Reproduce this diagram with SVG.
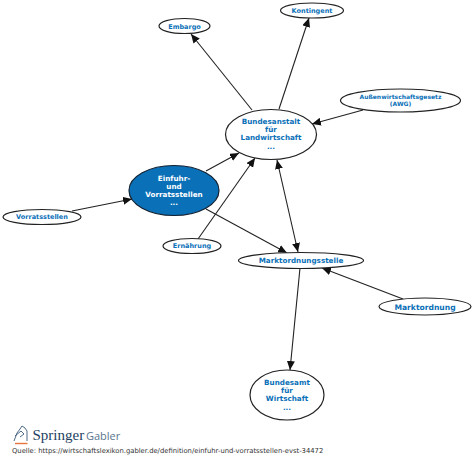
<svg xmlns="http://www.w3.org/2000/svg" width="474" height="463" viewBox="0 0 474 463">
<style>
.n{fill:#fff;stroke:#222;stroke-width:1.2}
.t{font-family:"DejaVu Sans",sans-serif;font-weight:bold;fill:#0a70b8;text-anchor:middle}
.x{font-size:6px}.s{font-size:6.5px}.m{font-size:7.2px}
.e{fill:none;stroke:#222;stroke-width:1.1;marker-end:url(#a)}
</style>
<defs><marker id="a" markerUnits="userSpaceOnUse" markerWidth="10" markerHeight="8" refX="9" refY="4" orient="auto-start-reverse"><path d="M0 0L9 4L0 8z" fill="#111"/></marker></defs>
<rect width="474" height="463" fill="#fff"/>
<g id="connectors">
<path class="e" d="M252 110L191 34"/>
<path class="e" d="M279 109L309 18"/>
<path class="e" d="M363 110L312 124"/>
<path class="e" d="M206 171L239 153"/>
<path class="e" d="M198 239L255 158"/>
<path class="e" d="M298 252L277 160" marker-start="url(#a)"/>
<path class="e" d="M206 209L287 253"/>
<path class="e" d="M72 211L132 199"/>
<path class="e" d="M403 299L322 268"/>
<path class="e" d="M300 268L290 370"/>
</g>
<g id="embargo"><ellipse class="n" cx="184.500" cy="26" rx="25.500" ry="7.500"/><text class="t s" x="184.500" y="28.500">Embargo</text></g>
<g id="kontingent"><ellipse class="n" cx="312" cy="10.500" rx="31.500" ry="7.500"/><text class="t s" x="312" y="12.500">Kontingent</text></g>
<g id="awg"><ellipse class="n" cx="400.500" cy="100.500" rx="60" ry="11.500"/><text class="t x" x="400.500" y="99">Außenwirtschaftsgesetz</text><text class="t x" x="400.500" y="105.500">(AWG)</text></g>
<g id="bundesanstalt"><ellipse class="n" cx="271" cy="134.500" rx="45.500" ry="25"/><text class="t m" x="271" y="124">Bundesanstalt</text><text class="t m" x="271" y="132">für</text><text class="t m" x="271" y="140">Landwirtschaft</text><text class="t m" x="271" y="148.500">...</text></g>
<g id="einfuhr"><ellipse cx="174" cy="190.500" rx="45" ry="25" fill="#0a70b8" stroke="#123" stroke-width="1.200"/><text class="t m" style="fill:#fff" x="174" y="180.700">Einfuhr-</text><text class="t m" style="fill:#fff" x="174" y="188.700">und</text><text class="t m" style="fill:#fff" x="174" y="196.700">Vorratsstellen</text><text class="t m" style="fill:#fff" x="174" y="205">...</text></g>
<g id="vorratsstellen"><ellipse class="n" cx="42" cy="217" rx="39" ry="7.500"/><text class="t s" x="42" y="219.300">Vorratsstellen</text></g>
<g id="ernaehrung"><ellipse class="n" cx="192" cy="246" rx="29" ry="7.500"/><text class="t s" x="192" y="248">Ernährung</text></g>
<g id="marktordnungsstelle"><ellipse class="n" cx="301" cy="260.500" rx="62.500" ry="8"/><text class="t m" x="301" y="262.500">Marktordnungsstelle</text></g>
<g id="marktordnung"><ellipse class="n" cx="425" cy="306.500" rx="46" ry="8.500"/><text class="t" font-size="7.600" x="425" y="309.500">Marktordnung</text></g>
<g id="bundesamt"><ellipse class="n" cx="287" cy="395" rx="37" ry="25"/><text class="t m" x="287" y="385.200">Bundesamt</text><text class="t m" x="287" y="393.200">für</text><text class="t m" x="287" y="401.400">Wirtschaft</text><text class="t m" x="287" y="409.500">...</text></g>
<g id="logo" fill="none">
<path d="M14 441L17 433L20 429L22 426L25 428L27 431L27 441M15 436L21 431L24 434L20 437" stroke="#3a5a78" stroke-width="0.900"/>
<path d="M15 443.500H27.500" stroke="#e8743b" stroke-width="1.400"/>
<text x="32.500" y="440" font-family="Liberation Serif,serif" font-size="15" fill="#1d3f63">Springer</text>
<text x="86" y="440" font-family="Open Sans,sans-serif" font-size="11" fill="#5a7690">Gabler</text>
</g>
<text x="12" y="453" font-family="DejaVu Sans,sans-serif" font-size="6.800" fill="#333">Quelle: https://wirtschaftslexikon.gabler.de/definition/einfuhr-und-vorratsstellen-evst-34472</text>
</svg>
